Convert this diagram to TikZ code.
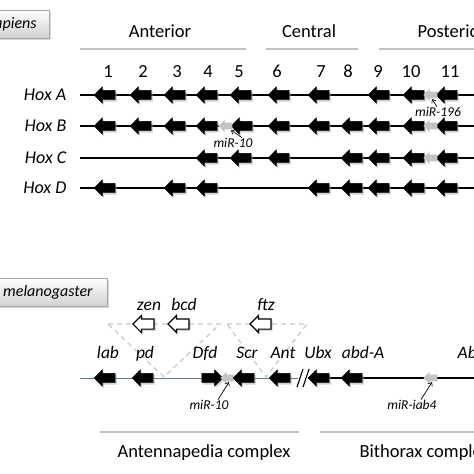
\documentclass[tikz,border=0pt]{standalone}
\usepackage{fontspec}
\setmainfont{Carlito}
\usepackage{tikz}
\usetikzlibrary{arrows.meta, positioning, shapes.arrows, shadows}
\definecolor{barcolor}{RGB}{192,192,192}
\definecolor{mircolor}{RGB}{196,196,196}
\definecolor{flyline}{RGB}{92,122,172}
\definecolor{dashcolor}{RGB}{200,200,200}

\begin{document}
\begin{tikzpicture}[x=1pt, y=-1pt, line width=1.3pt,
    gene/.style={single arrow, fill=black, draw=black, line width=0.4pt,
      inner xsep=0pt, inner ysep=4.5pt, single arrow head extend=3.5pt,
      minimum height=21pt,
      drop shadow={shadow xshift=1.6pt, shadow yshift=-1.8pt, fill=black!35}},
    geneL/.style={gene, shape border rotate=180},
    geneR/.style={gene},
    openL/.style={geneL, fill=white, line width=1.1pt, minimum height=21pt},
    mir/.style={single arrow, fill=mircolor, draw=none, inner xsep=0pt,
      inner ysep=2.8pt, single arrow head extend=2.8pt, minimum height=14pt,
      shape border rotate=180},
    dna/.style={line width=1.4pt, black},
    bar/.style={line width=2.4pt, barcolor},
    tri/.style={dashcolor, line width=1.2pt, dash pattern=on 5pt off 4pt},
    pointer/.style={line width=0.7pt, -{Straight Barb[length=3pt, width=5pt]}},
    txt/.style={font=\fontsize{18.5}{21}\selectfont, inner sep=0pt},
    hox/.style={txt, font=\fontsize{18}{21}\selectfont\itshape, anchor=base east},
    flylbl/.style={txt, font=\fontsize{17.5}{20}\selectfont\itshape, anchor=base},
    mirlbl/.style={inner sep=0pt, font=\fontsize{13.5}{15}\selectfont\itshape},
    species/.style={draw=black!35, line width=0.6pt, top color=white,
      bottom color=black!18, minimum height=28pt, inner xsep=13pt,
      font=\fontsize{16}{18}\selectfont\itshape, anchor=east,
      drop shadow={shadow xshift=1.5pt, shadow yshift=-1.5pt, fill=black!30}}]
  \useasboundingbox (0,0) rectangle (474,474);

  % H. sapiens
  \node[species] (hsap) at (50,24) {H. sapiens};
  \node[txt, anchor=base] (ant) at (160,37) {Anterior};
  \node[txt, anchor=base] (cen) at (309,37) {Central};
  \node[txt, anchor=base west] (post) at (417,37) {Posterior};
  \draw[bar] (80,49) -- (246,49);
  \draw[bar] (266,49) -- (358,49);
  \draw[bar] (379,49) -- (476,49);
  \foreach \n/\x in {1/108,2/143,3/177,4/208,5/239,6/277,7/321,8/348,9/378,10/411,11/450}
    \node[txt, anchor=base] (n\n) at (\x,77) {\n};

  \foreach \r/\y in {A/95,B/126,C/158,D/188} {
    \node[hox] (hox\r) at (67,\y+5) {Hox \r};
    \coordinate (l\r) at (80,\y);
    \coordinate (r\r) at (476,\y);
    \draw[dna] (l\r) -- (r\r);
  }
  % Hox A
  \foreach \g/\x in {1/107,2/143,3/177,4/209,5/243,6/281,7/321,9/381,10/416,11/449}
    \node[geneL] (A\g) at (\x,95) {};
  \node[mir] (Amir) at (432,95) {};
  % Hox B
  \foreach \g/\x in {1/107,2/143,3/177,4/209,5/244,6/281,7/321,8/354,9/381,10/416,11/449}
    \node[geneL] (B\g) at (\x,126) {};
  \node[mir] (Bmir10) at (227,126) {};
  \node[mir] (Bmir) at (432,126) {};
  % Hox C
  \foreach \g/\x in {4/209,5/243,6/281,8/354,9/381,10/416,11/449}
    \node[geneL] (C\g) at (\x,158) {};
  \node[mir] (Cmir) at (432,158) {};
  % Hox D
  \foreach \g/\x in {1/107,3/177,4/209,7/321,8/354,9/381,10/416,11/449}
    \node[geneL] (D\g) at (\x,188) {};

  \node[mirlbl] (lbl196) at (438,112) {miR-196};
  \draw[pointer] ([xshift=-1pt]lbl196.north) -- (Amir.south);
  \node[mirlbl] (lbl10) at (233,143) {miR-10};
  \draw[pointer] ([xshift=9pt]lbl10.north) -- (Bmir10.south east);

  % D. melanogaster
  \node[species, inner xsep=15pt] (dmel) at (108,292) {D. melanogaster};
  \draw[tri] (108,324) -- (220,324) -- (164,377) -- cycle;
  \draw[tri] (227,324) -- (307,324) -- (266,377) -- cycle;
  \coordinate (fl) at (80,378);
  \coordinate (fb1) at (298,378);
  \coordinate (fb2) at (308,378);
  \coordinate (fr) at (476,378);
  \draw[flyline, line width=0.9pt] (fl) -- (fb1);
  \draw[dna] (fb2) -- (fr);
  \draw[line width=1.1pt] (297,387) -- (303,369);
  \draw[line width=1.1pt] (303,387) -- (309,369);

  \node[openL] (zen) at (146,324) {};
  \node[openL] (bcd) at (181,324) {};
  \node[openL] (ftz) at (263,324) {};
  \node[flylbl] (lzen) at (149,310) {zen};
  \node[flylbl] (lbcd) at (184,310) {bcd};
  \node[flylbl] (lftz) at (266,310) {ftz};

  \node[geneL] (lab) at (107,378) {};
  \node[geneL] (pd) at (145,378) {};
  \node[geneR] (Dfd) at (210,378) {};
  \node[mir] (Fmir10) at (229,378) {};
  \node[geneL] (Scr) at (246,378) {};
  \node[geneL] (Ant) at (282,378) {};
  \node[geneL] (Ubx) at (321,378) {};
  \node[geneL] (abdA) at (354,378) {};
  \node[mir] (Fiab4) at (432,378) {};
  \foreach \n/\t/\x in {llab/lab/108, lpd/pd/145, lDfd/Dfd/205, lScr/Scr/247,
      lAnt/Ant/283, lUbx/Ubx/318, labdA/abd-A/363}
    \node[flylbl] (\n) at (\x,358) {\t};
  \node[flylbl, anchor=base west] (lAbdB) at (457,358) {Abd-B};

  \node[mirlbl] (flbl10) at (209,405) {miR-10};
  \draw[pointer] ([xshift=9pt]flbl10.north) -- (Fmir10.south);
  \node[mirlbl] (lbliab) at (412,405) {miR-iab4};
  \draw[pointer] ([xshift=9pt]lbliab.north) -- (Fiab4.south);

  \draw[bar] (100,432) -- (299,432);
  \draw[bar] (320,432) -- (476,432);
  \node[txt, anchor=base west] (antc) at (117,457) {Antennapedia complex};
  \node[txt, anchor=base west] (bxc) at (359,457) {Bithorax complex};
\end{tikzpicture}
\end{document}
